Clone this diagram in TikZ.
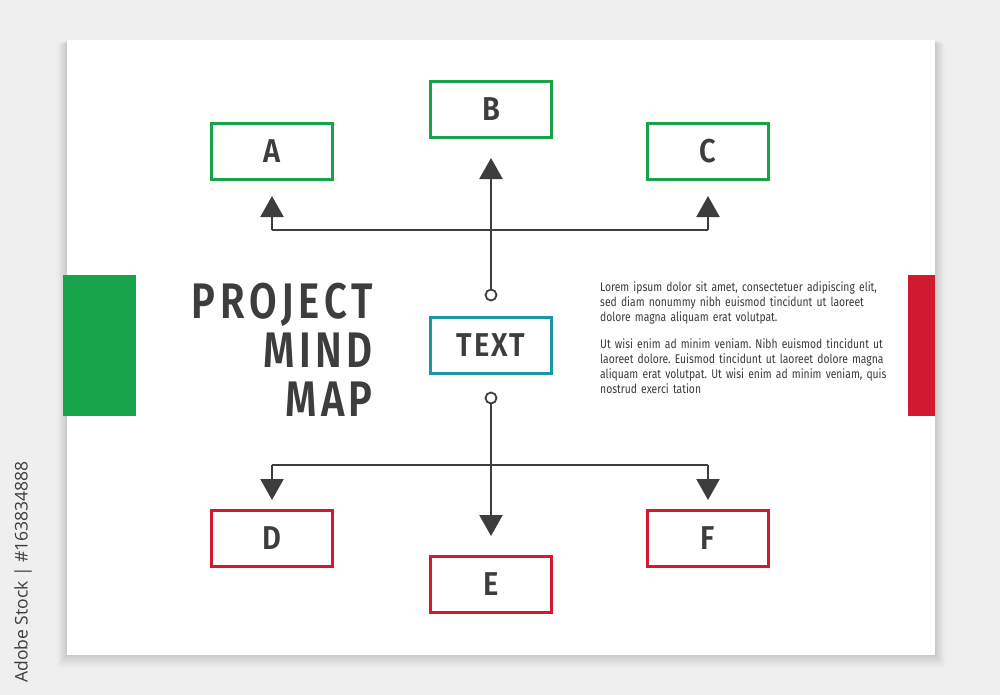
\documentclass[tikz,border=0pt]{standalone}
\usepackage{fontspec}
\setmainfont{Fira Sans}
\newfontfamily\condbold[FakeStretch=0.88,LetterSpace=6]{Fira Sans SemiBold}
\newfontfamily\titlefont[FakeStretch=0.80]{Fira Sans SemiBold}
\newfontfamily\condtext[FakeStretch=0.82]{Fira Sans}
\newfontfamily\wmfont{Open Sans}
\usetikzlibrary{arrows.meta}
\definecolor{bgray}{HTML}{EFEFEF}
\definecolor{ink}{HTML}{3D3D3F}
\definecolor{mgreen}{HTML}{17A34A}
\definecolor{mred}{HTML}{D11A30}
\definecolor{mteal}{HTML}{1C97A6}
\tikzset{
  box/.style={draw, line width=3.2pt, minimum width=121pt, minimum height=56pt, inner sep=0pt, font=\condbold\fontsize{33}{33}\selectfont, text=ink},
  gbox/.style={box, draw=mgreen},
  rbox/.style={box, draw=mred},
  tbox/.style={box, draw=mteal},
  conn/.style={draw=ink, line width=2.4pt},
  arr/.style={conn, -{Triangle[width=23pt,length=21pt]}},
  dot/.style={circle, draw=ink, line width=1.8pt, fill=white, minimum size=11pt, inner sep=0pt},
  title/.style={font=\titlefont\fontsize{50}{50}\selectfont, text=ink, inner sep=0pt},
  para/.style={font=\condtext\fontsize{12.6}{15}\selectfont\frenchspacing, text=ink!95!black, inner sep=0pt, align=left, text width=300pt}
}
\newcommand{\ls}{\hspace{4.5pt}}
\begin{document}
\begin{tikzpicture}[x=1pt,y=-1pt]
\useasboundingbox (0,0) rectangle (1000,695);
\fill[bgray] (0,0) rectangle (1000,695);
% soft shadow
\foreach \i in {1,...,12}{
  \fill[black,opacity=0.010] (67-\i*0.8,40+\i*0.3) rectangle (935+\i*0.8,655+\i);
}
\fill[white] (67,40) rectangle (935,655);
% side bars
\fill[mgreen] (63,275) rectangle (136,416);
\fill[mred] (908,275) rectangle (935,416);
% boxes
\node[gbox] (A) at (272,151.5) {A};
\node[gbox] (B) at (491,109.5) {B};
\node[gbox] (C) at (708,151.5) {C};
\node[tbox] (T) at (491,345.5) {TEXT};
\node[rbox] (D) at (272,538.5) {D};
\node[rbox] (E) at (491,584.5) {E};
\node[rbox] (F) at (708,538.5) {F};
% connector points
\node[dot] (up) at (491,295) {};
\node[dot] (dn) at (491,398) {};
\coordinate (tA) at (272,196);
\coordinate (tB) at (491,158);
\coordinate (tC) at (708,196);
\coordinate (jL) at (272,230);
\coordinate (jR) at (708,230);
\coordinate (tD) at (272,500);
\coordinate (tE) at (491,536);
\coordinate (tF) at (708,500);
\coordinate (kL) at (272,465);
\coordinate (kR) at (708,465);
% connectors
\draw[conn] (jL) -- (jR);
\draw[arr] (jL) -- (tA);
\draw[arr] (jR) -- (tC);
\draw[arr] (up) -- (tB);
\draw[conn] (kL) -- (kR);
\draw[arr] (kL) -- (tD);
\draw[arr] (kR) -- (tF);
\draw[arr] (dn) -- (tE);
% title
\node[title, anchor=base east] (t1) at (373,318) {P\ls R\ls O\ls J\ls E\ls C\ls T};
\node[title, anchor=base east] (t2) at (373,367) {M\ls I\ls N\ls D};
\node[title, anchor=base east] (t3) at (373,416) {M\ls A\ls P};
% paragraphs
\node[para, anchor=base west] (p1) at (600,291) {Lorem ipsum dolor sit amet, consectetuer adipiscing elit,\\ sed diam nonummy nibh euismod tincidunt ut laoreet\\ dolore magna aliquam erat volutpat.};
\node[para, anchor=base west] (p2) at (600,348) {Ut wisi enim ad minim veniam. Nibh euismod tincidunt ut\\ laoreet dolore. Euismod tincidunt ut laoreet dolore magna\\ aliquam erat volutpat. Ut wisi enim ad minim veniam, quis\\ nostrud exerci tation};
% watermark
\node[rotate=90, font=\wmfont\fontsize{17.5}{17.5}\selectfont, text=ink, inner sep=0pt] (wm) at (23,572) {Adobe Stock | \#163834888};
\end{tikzpicture}
\end{document}
